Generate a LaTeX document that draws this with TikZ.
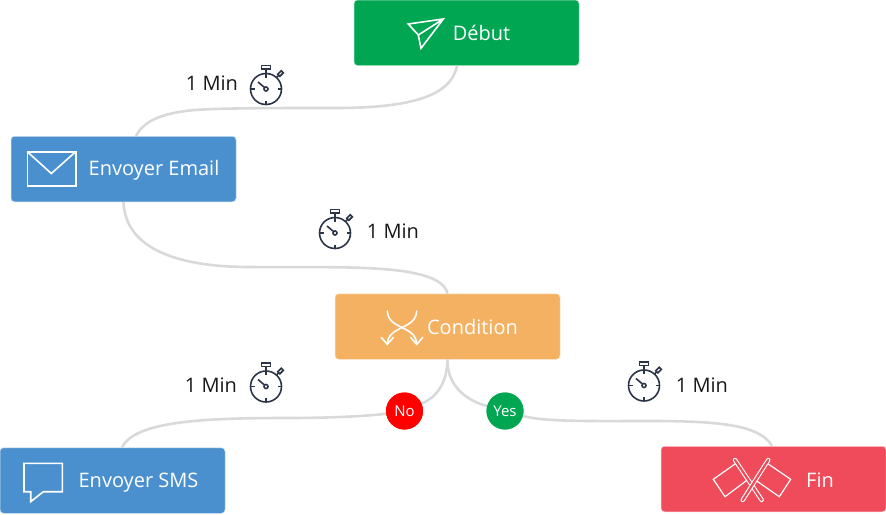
\documentclass[tikz,border=0pt]{standalone}
\usepackage{fontspec}
\setmainfont{Open Sans}
\tikzset{
  stepbox/.style={rectangle,rounded corners=3.5,minimum width=225,minimum height=65.5,inner sep=0,draw=white!70!#1,line width=0.5,fill=#1},
  boxtext/.style={text=white,font=\fontsize{20}{24}\selectfont,inner sep=0},
  icon/.style={draw=white,line width=1.6,line join=miter},
  link/.style={draw=linkcolor,line width=2.6},
  badge/.style={circle,minimum size=37,inner sep=0,fill=#1,text=white,font=\fontsize{15}{18}\selectfont},
  delay/.style={text=black!90,font=\fontsize{20}{24}\selectfont,inner sep=0},
  watch/.style={draw=watchcolor,line width=1.6}
}
\begin{document}
\begin{tikzpicture}[x=1pt,y=-1pt]
  % Define colors
  \definecolor{startcolor}{RGB}{0,166,81}
  \definecolor{actioncolor}{RGB}{74,144,206}
  \definecolor{condcolor}{RGB}{243,177,97}
  \definecolor{endcolor}{RGB}{239,75,90}
  \definecolor{nocolor}{RGB}{255,0,0}
  \definecolor{linkcolor}{RGB}{217,217,217}
  \definecolor{watchcolor}{RGB}{44,53,71}

  \useasboundingbox (0,0) rectangle (886,514);

  % Boxes
  \node[stepbox=startcolor] (debut) at (466.5,32.75) {};
  \node[stepbox=actioncolor] (email) at (123.5,169) {};
  \node[stepbox=condcolor] (condition) at (447.5,326.5) {};
  \node[stepbox=actioncolor] (sms) at (112.5,480.5) {};
  \node[stepbox=endcolor] (fin) at (773.5,479) {};

  % Box texts
  \node[boxtext] (debuttext) at (481.5,32.5) {Début};
  \node[boxtext] (emailtext) at (154,170.5) {Envoyer Email};
  \node[boxtext] (conditiontext) at (472.5,326.5) {Condition};
  \node[boxtext] (smstext) at (138.5,482.5) {Envoyer SMS};
  \node[boxtext] (fintext) at (820,480.5) {Fin};

  % Branch badges
  \node[badge=nocolor] (no) at (404.5,411) {No};
  \node[badge=startcolor] (yes) at (505,411) {Yes};

  % Connections
  \draw[link] ([xshift=-9.5]debut.south) .. controls (451,98) and (405,108) .. (335,108)
    .. controls (270,108) and (225,108) .. (195,110) .. controls (160,113) and (143,122) .. ([xshift=12.5]email.north);
  \draw[link] (email.south) .. controls (125,245) and (170,267) .. (250,267)
    .. controls (340,268) and (440,262) .. (condition.north);
  \draw[link] (condition.south) .. controls (447,385) and (435,398) .. (no);
  \draw[link] (no) .. controls (370,416) and (330,418) .. (290,418)
    .. controls (210,418) and (135,420) .. ([xshift=9.5]sms.north);
  \draw[link] (condition.south) .. controls (447,385) and (465,400) .. (yes);
  \draw[link] (yes) .. controls (545,422) and (590,421) .. (650,421)
    .. controls (720,421) and (760,425) .. ([xshift=-1.5]fin.north);
  \node[badge=nocolor] at (no) {No};
  \node[badge=startcolor] at (yes) {Yes};

  % Paper plane
  \draw[icon] (443.3,19) -- (408.3,24) -- (418.3,35) -- (421,48.3) -- cycle (418.3,35) -- (443.3,19);

  % Envelope
  \draw[icon] (27.3,151.7) rectangle (75.7,186);
  \draw[icon] (27.3,151.7) -- (51.3,173.5) -- (75.7,151.7);

  % Crossing arrows
  \draw[icon,line cap=round] (387.3,311) .. controls (388,330) and (416,325) .. (416.7,344.3);
  \draw[icon,line cap=round] (416.7,311) .. controls (416,330) and (388,325) .. (387.3,344.3);
  \foreach \x in {387.3,416.7} {
    \draw[icon,line cap=round] (\x-6,337.5) -- (\x,344.3) -- (\x+6,337.5);
  }

  % Speech bubble
  \draw[icon] (24,463.3) -- (62.3,463.3) -- (62.3,491.7) -- (43.3,491.7) -- (30.7,501.7) -- (30.7,491.7) -- (24,491.7) -- cycle;

  % Flags
  \draw[icon,line width=1.2] (736,463.3) -- (713.3,479.3) -- (725,496.7) -- (747.3,480);
  \draw[icon,line width=1.2] (768.3,464) -- (790.7,479.3) -- (779.3,496.7) -- (756.7,481);
  \draw[draw=white,double=endcolor,line width=1.1,double distance=2.2,line cap=round] (735,460) -- (761.7,500);
  \draw[draw=white,double=endcolor,line width=1.1,double distance=2.2,line cap=round] (768.3,460) -- (742.7,500);

  % Stopwatches
  \foreach \i/\x/\y in {1/266/89,2/335/233,3/266/386.5,4/644/385.5} {
    \begin{scope}[shift={(\x,\y)}]
      \draw[watch] (0,0) circle (15.5);
      \draw[watch] (0,0) circle (2);
      \draw[watch] (-1.5,-1.5) -- (-8,-7);
      \foreach \a in {0,90,180,270} {
        \draw[watch] (\a:15.5) -- (\a:11.5);
      }
      \draw[watch] (0,-15.5) -- (0,-20);
      \draw[watch] (-4.5,-23.5) rectangle (4.5,-20);
      \draw[watch] (10.5,-11.5) -- (13,-14);
      \draw[watch,fill=white,rotate around={45:(14.5,-15.5)}] (12,-17) rectangle (17,-14);
    \end{scope}
  }

  % Delay labels
  \node[delay] (delay1) at (212,83) {1 Min};
  \node[delay] (delay2) at (393,231.5) {1 Min};
  \node[delay] (delay3) at (211,385) {1 Min};
  \node[delay] (delay4) at (702,385) {1 Min};

\end{tikzpicture}
\end{document}
